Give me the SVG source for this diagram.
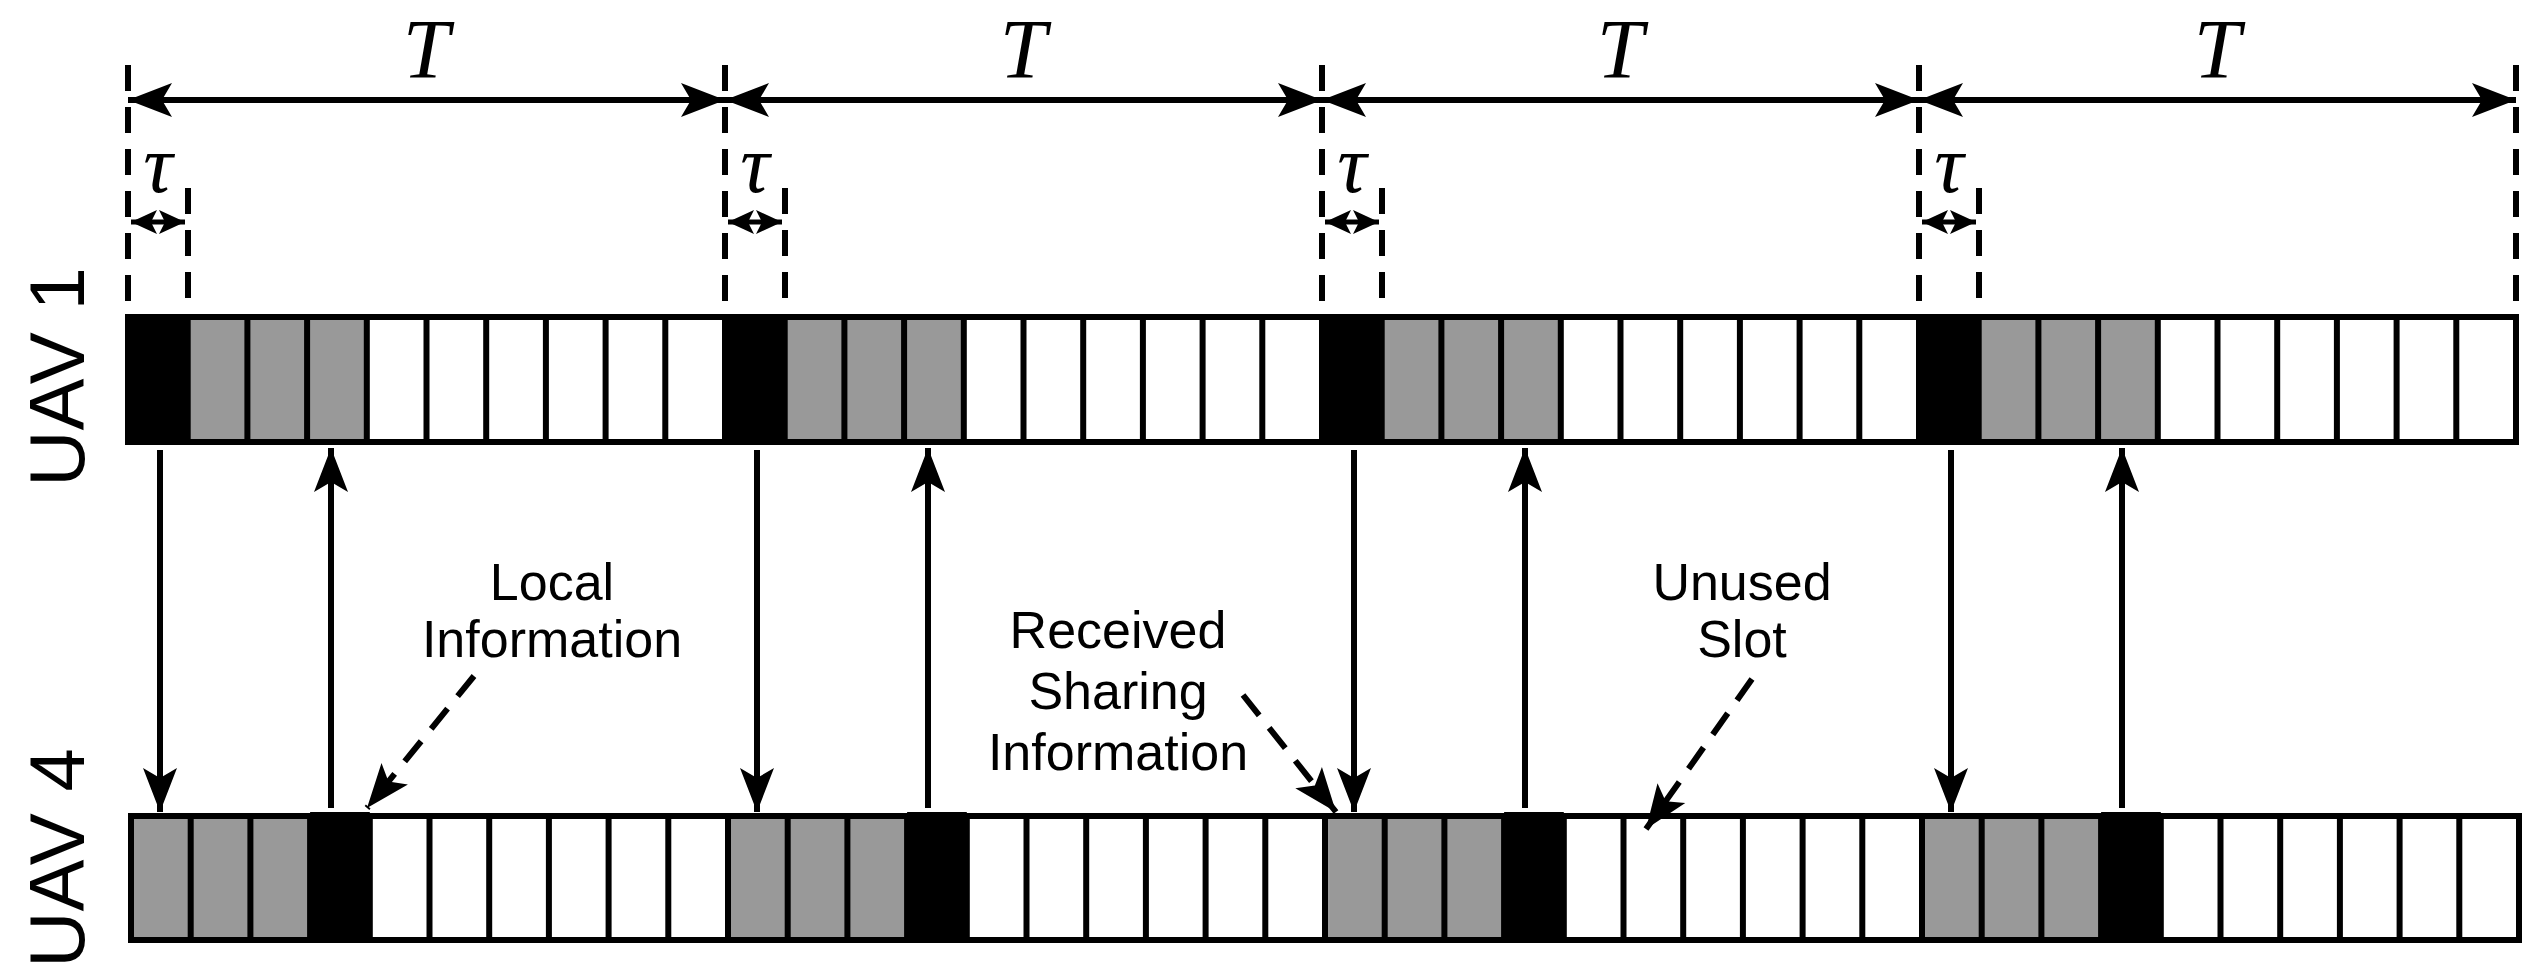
<svg xmlns="http://www.w3.org/2000/svg" width="2548" height="966" viewBox="0 0 2548 966">
<style>
.bar{fill:#fff;stroke:#000;stroke-width:6}
.blk{fill:#000}
.gry{fill:#999}
.div{stroke:#000;stroke-width:6;fill:none}
.dash{stroke:#000;stroke-width:6;stroke-dasharray:26 16;fill:none}
.ln{stroke:#000;stroke-width:6;fill:none}
.lbl{font-family:"Liberation Sans",Arial,sans-serif;font-size:52px;text-anchor:middle}
.uav{font-family:"Liberation Sans",Arial,sans-serif;font-size:78px;text-anchor:middle}
.T{font-family:"Liberation Serif","Times New Roman",serif;font-style:italic;font-size:84px;text-anchor:middle}
.tau{font-family:"Liberation Serif","Times New Roman",serif;font-style:italic;font-size:82px;text-anchor:middle}
</style>
<defs>
<marker id="ah" markerUnits="userSpaceOnUse" markerWidth="50" markerHeight="40" viewBox="-46 -20 50 40" refX="0" refY="0" orient="auto-start-reverse"><path d="M0,0 L-44,-17 L-34,0 L-44,17 z"/></marker>
<marker id="sh" markerUnits="userSpaceOnUse" markerWidth="30" markerHeight="30" viewBox="-28 -14 30 28" refX="0" refY="0" orient="auto-start-reverse"><path d="M0,0 L-26,-12 L-20,0 L-26,12 z"/></marker>
</defs>
<g id="label-uav1"><text class="uav" transform="translate(84,377) rotate(-90)">UAV 1</text></g>
<g id="label-uav4"><text class="uav" transform="translate(84,858) rotate(-90)">UAV 4</text></g>
<g id="period-labels">
<text class="T" x="426" y="78">T</text><text class="T" x="1023" y="78">T</text><text class="T" x="1620" y="78">T</text><text class="T" x="2217" y="78">T</text>
<text class="tau" x="158" y="192">τ</text><text class="tau" x="755" y="192">τ</text><text class="tau" x="1352" y="192">τ</text><text class="tau" x="1949" y="192">τ</text>
</g>
<g id="dimension-lines">
<path class="dash" d="M128,65V312M725,65V312M1322,65V312M1919,65V312M2516,65V312"/>
<path class="dash" d="M188,188V312M785,188V312M1382,188V312M1979,188V312"/>
<path class="ln" d="M128,100H725" marker-start="url(#ah)" marker-end="url(#ah)"/>
<path class="ln" d="M725,100H1322" marker-start="url(#ah)" marker-end="url(#ah)"/>
<path class="ln" d="M1322,100H1919" marker-start="url(#ah)" marker-end="url(#ah)"/>
<path class="ln" d="M1919,100H2516" marker-start="url(#ah)" marker-end="url(#ah)"/>
<path class="ln" style="stroke-width:5" d="M131,222H185" marker-start="url(#sh)" marker-end="url(#sh)"/>
<path class="ln" style="stroke-width:5" d="M728,222H782" marker-start="url(#sh)" marker-end="url(#sh)"/>
<path class="ln" style="stroke-width:5" d="M1325,222H1379" marker-start="url(#sh)" marker-end="url(#sh)"/>
<path class="ln" style="stroke-width:5" d="M1922,222H1976" marker-start="url(#sh)" marker-end="url(#sh)"/>
</g>
<g id="uav1-bar">
<rect class="bar" x="128" y="317" width="2388" height="125"/>
<rect class="blk" x="128" y="317" width="59.7" height="125"/><rect class="gry" x="187.7" y="317" width="179.1" height="125"/>
<rect class="blk" x="725" y="317" width="59.7" height="125"/><rect class="gry" x="784.7" y="317" width="179.1" height="125"/>
<rect class="blk" x="1322" y="317" width="59.7" height="125"/><rect class="gry" x="1381.7" y="317" width="179.1" height="125"/>
<rect class="blk" x="1919" y="317" width="59.7" height="125"/><rect class="gry" x="1978.7" y="317" width="179.1" height="125"/>
<path class="div" d="M187.7,317V442M247.4,317V442M307.1,317V442M366.8,317V442M426.5,317V442M486.2,317V442M545.9,317V442M605.6,317V442M665.3,317V442M725,317V442M784.7,317V442M844.4,317V442M904.1,317V442M963.8,317V442M1023.5,317V442M1083.2,317V442M1142.9,317V442M1202.6,317V442M1262.3,317V442M1322,317V442M1381.7,317V442M1441.4,317V442M1501.1,317V442M1560.8,317V442M1620.5,317V442M1680.2,317V442M1739.9,317V442M1799.6,317V442M1859.3,317V442M1919,317V442M1978.7,317V442M2038.4,317V442M2098.1,317V442M2157.8,317V442M2217.5,317V442M2277.2,317V442M2336.9,317V442M2396.6,317V442M2456.3,317V442"/>
<rect x="128" y="317" width="2388" height="125" fill="none" stroke="#000" stroke-width="6"/>
</g>
<g id="uav4-bar">
<rect class="bar" x="131" y="816" width="2388" height="124"/>
<rect class="gry" x="131" y="816" width="179.1" height="124"/><rect class="blk" x="310.1" y="812" width="59.7" height="131"/>
<rect class="gry" x="728" y="816" width="179.1" height="124"/><rect class="blk" x="907.1" y="812" width="59.7" height="131"/>
<rect class="gry" x="1325" y="816" width="179.1" height="124"/><rect class="blk" x="1504.1" y="812" width="59.7" height="131"/>
<rect class="gry" x="1922" y="816" width="179.1" height="124"/><rect class="blk" x="2101.1" y="812" width="59.7" height="131"/>
<path class="div" d="M190.7,816V940M250.4,816V940M310.1,816V940M369.8,816V940M429.5,816V940M489.2,816V940M548.9,816V940M608.6,816V940M668.3,816V940M728,816V940M787.7,816V940M847.4,816V940M907.1,816V940M966.8,816V940M1026.5,816V940M1086.2,816V940M1145.9,816V940M1205.6,816V940M1265.3,816V940M1325,816V940M1384.7,816V940M1444.4,816V940M1504.1,816V940M1563.8,816V940M1623.5,816V940M1683.2,816V940M1742.9,816V940M1802.6,816V940M1862.3,816V940M1922,816V940M1981.7,816V940M2041.4,816V940M2101.1,816V940M2160.8,816V940M2220.5,816V940M2280.2,816V940M2339.9,816V940M2399.6,816V940M2459.3,816V940"/>
<rect x="131" y="816" width="2388" height="124" fill="none" stroke="#000" stroke-width="6"/>
</g>
<g id="label-local"><text class="lbl" x="552" y="600">Local</text><text class="lbl" x="552" y="657">Information</text></g>
<g id="label-received"><text class="lbl" x="1118" y="648">Received</text><text class="lbl" x="1118" y="709">Sharing</text><text class="lbl" x="1118" y="770">Information</text></g>
<g id="label-unused"><text class="lbl" x="1742" y="600">Unused</text><text class="lbl" x="1742" y="657">Slot</text></g>
<g id="connectors">
<path class="ln" d="M160,450V812" marker-end="url(#ah)"/>
<path class="ln" d="M331,808V448" marker-end="url(#ah)"/>
<path class="ln" d="M757,450V812" marker-end="url(#ah)"/>
<path class="ln" d="M928,808V448" marker-end="url(#ah)"/>
<path class="ln" d="M1354,450V812" marker-end="url(#ah)"/>
<path class="ln" d="M1525,808V448" marker-end="url(#ah)"/>
<path class="ln" d="M1951,450V812" marker-end="url(#ah)"/>
<path class="ln" d="M2122,808V448" marker-end="url(#ah)"/>
<path class="dash" d="M474,676L367,808" marker-end="url(#ah)"/>
<path class="dash" d="M1243,695L1336,812" marker-end="url(#ah)"/>
<path class="dash" d="M1752,679L1646,829" marker-end="url(#ah)"/>
</g>
</svg>
